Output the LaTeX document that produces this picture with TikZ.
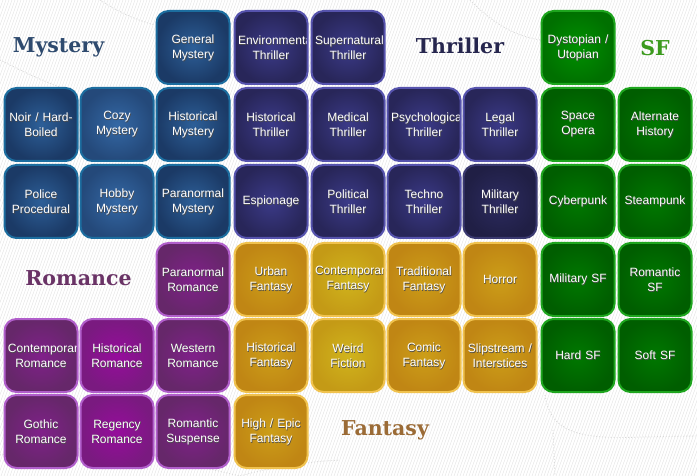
\documentclass[tikz,border=0pt]{standalone}
\usepackage{fontspec}
\setmainfont{Liberation Sans}
\newfontfamily\titlefont{DejaVu Serif}

\definecolor{mystO}{HTML}{1B3A66}\definecolor{mystI}{HTML}{2D5F98}\definecolor{mystB}{HTML}{1C6D9F}
\definecolor{mystO2}{HTML}{24497A}\definecolor{mystI2}{HTML}{3468A5}
\definecolor{thrO}{HTML}{282659}\definecolor{thrI}{HTML}{3B3A88}\definecolor{thrB}{HTML}{5653AD}
\definecolor{thrO2}{HTML}{201F45}\definecolor{thrI2}{HTML}{2C2B60}\definecolor{thrB2}{HTML}{3A3970}
\definecolor{romO}{HTML}{66276A}\definecolor{romI}{HTML}{80208A}\definecolor{romB}{HTML}{B15FCB}
\definecolor{romO2}{HTML}{7A1A80}\definecolor{romI2}{HTML}{960C9C}
\definecolor{fanO}{HTML}{C08614}\definecolor{fanI}{HTML}{CC9E18}\definecolor{fanB}{HTML}{F0C24E}
\definecolor{fanO2}{HTML}{C49A16}\definecolor{fanI2}{HTML}{D0B41C}
\definecolor{sfO}{HTML}{005E00}\definecolor{sfI}{HTML}{007800}\definecolor{sfB}{HTML}{1EA51E}
\definecolor{sfO2}{HTML}{007000}\definecolor{sfI2}{HTML}{009000}
\definecolor{mystT}{HTML}{2E4A6E}\definecolor{thrT}{HTML}{26264E}\definecolor{sfT}{HTML}{3B9A1D}
\definecolor{romT}{HTML}{6A3366}\definecolor{fanT}{HTML}{9B6B36}

\tikzset{
  tile/.style={rounded corners=12pt, minimum width=73pt, minimum height=73pt, line width=2pt, inner sep=0pt},
  myst/.style={tile, draw=mystB, inner color=mystI, outer color=mystO},
  mystl/.style={tile, draw=mystB, inner color=mystI2, outer color=mystO2},
  thr/.style={tile, draw=thrB, inner color=thrI, outer color=thrO},
  thrd/.style={tile, draw=thrB2, inner color=thrI2, outer color=thrO2},
  rom/.style={tile, draw=romB, inner color=romI, outer color=romO},
  romm/.style={tile, draw=romB, inner color=romI2, outer color=romO2},
  fan/.style={tile, draw=fanB, inner color=fanI, outer color=fanO},
  fany/.style={tile, draw=fanB, inner color=fanI2, outer color=fanO2},
  sf/.style={tile, draw=sfB, inner color=sfI, outer color=sfO},
  sfb/.style={tile, draw=sfB, inner color=sfI2, outer color=sfO2},
  tiletext/.style={text=white, font=\fontsize{12}{15}\selectfont, text width=66pt, align=center, inner sep=0pt},
  shadowtext/.style={tiletext, text=black!70},
  gtitle/.style={font=\titlefont\bfseries\fontsize{20.5}{24}\selectfont, anchor=base},
  bgcurve/.style={gray!30, line width=0.9pt, dotted}
}

\newcommand\tile[5]{%
  \node[#4, path picture={
    \node[shadowtext] at ([shift={(0.6pt,-0.9pt)}]path picture bounding box.center) {#5};
    \node[tiletext] at (path picture bounding box.center) {#5};
  }] (#1) at (#2,#3) {};}

\begin{document}
\begin{tikzpicture}[x=1pt, y=-1pt]
\useasboundingbox (0,0) rectangle (697,476);
\fill[white] (0,0) rectangle (697,476);
\begin{scope}
  \clip (0,0) rectangle (697,476);
  \foreach \k in {-200,-197,...,700} {
    \draw[gray!24, line width=0.35pt] (\k,476) -- (\k+170,0);
  }
  \draw[bgcurve] (545,395) .. controls (550,430) and (575,440) .. (640,437) -- (697,436);
  \draw[bgcurve] (553,430) -- (555,476);
  \draw[bgcurve] (0,455) .. controls (60,440) and (130,450) .. (240,476);
  \draw[bgcurve] (470,0) .. controls (490,20) and (510,35) .. (540,40);
  \draw[bgcurve] (100,0) .. controls (115,10) and (135,20) .. (155,25);
  \draw[bgcurve] (0,60) .. controls (20,70) and (40,80) .. (60,87);
  \draw[bgcurve] (240,476) .. controls (260,470) and (300,462) .. (340,460);
\end{scope}

% titles
\node[gtitle, text=mystT] (tmyst) at (58.5,53) {Mystery};
\node[gtitle, text=thrT] (tthr) at (460,54) {Thriller};
\node[gtitle, text=sfT] (tsf) at (655,56) {SF};
\node[gtitle, text=romT] (trom) at (78.5,286) {Romance};
\node[gtitle, text=fanT] (tfan) at (385,435) {Fantasy};

% row 0
\tile{gm}{193}{47.5}{myst}{General\\Mystery}
\tile{et}{271}{47.5}{thr}{\mbox{Environmental}\\Thriller}
\tile{st}{348}{47.5}{thr}{Supernatural\\Thriller}
\tile{du}{578}{47.5}{sfb}{Dystopian /\\Utopian}
% row 1
\tile{nb}{41}{124.5}{myst}{Noir / Hard-\\Boiled}
\tile{cm}{117}{124.5}{mystl}{Cozy\\Mystery}
\tile{hm}{193}{124.5}{myst}{Historical\\Mystery}
\tile{ht}{271}{124.5}{thr}{Historical\\Thriller}
\tile{mt}{348}{124.5}{thr}{Medical\\Thriller}
\tile{pt}{424}{124.5}{thr}{\mbox{Psychological}\\Thriller}
\tile{lt}{500}{124.5}{thr}{Legal\\Thriller}
\tile{so}{578}{124.5}{sf}{Space\\Opera}
\tile{ah}{655}{124.5}{sf}{Alternate\\History}
% row 2
\tile{pp}{41}{201.5}{myst}{Police\\Procedural}
\tile{hbm}{117}{201.5}{mystl}{Hobby\\Mystery}
\tile{pm}{193}{201.5}{myst}{Paranormal\\Mystery}
\tile{es}{271}{201.5}{thr}{Espionage}
\tile{pot}{348}{201.5}{thr}{Political\\Thriller}
\tile{tt}{424}{201.5}{thr}{Techno\\Thriller}
\tile{milt}{500}{201.5}{thrd}{Military\\Thriller}
\tile{cp}{578}{201.5}{sf}{Cyberpunk}
\tile{sp}{655}{201.5}{sf}{Steampunk}
% row 3
\tile{pr}{193}{279.5}{rom}{Paranormal\\Romance}
\tile{uf}{271}{279.5}{fan}{Urban\\Fantasy}
\tile{cf}{348}{279.5}{fany}{\mbox{Contemporary}\\Fantasy}
\tile{tf}{424}{279.5}{fan}{Traditional\\Fantasy}
\tile{ho}{500}{279.5}{fan}{Horror}
\tile{msf}{578}{279.5}{sf}{Military SF}
\tile{rsf}{655}{279.5}{sf}{Romantic\\SF}
% row 4
\tile{cr}{41}{355.5}{rom}{\mbox{Contemporary}\\Romance}
\tile{hr}{117}{355.5}{romm}{Historical\\Romance}
\tile{wr}{193}{355.5}{rom}{Western\\Romance}
\tile{hf}{271}{355.5}{fan}{Historical\\Fantasy}
\tile{wf}{348}{355.5}{fany}{Weird\\Fiction}
\tile{cof}{424}{355.5}{fan}{Comic\\Fantasy}
\tile{si}{500}{355.5}{fan}{Slipstream /\\Interstices}
\tile{hsf}{578}{355.5}{sf}{Hard SF}
\tile{ssf}{655}{355.5}{sf}{Soft SF}
% row 5
\tile{gr}{41}{431.5}{rom}{Gothic\\Romance}
\tile{rr}{117}{431.5}{romm}{Regency\\Romance}
\tile{rs}{193}{431.5}{rom}{Romantic\\Suspense}
\tile{hef}{271}{431.5}{fan}{High / Epic\\Fantasy}
\end{tikzpicture}
\end{document}
